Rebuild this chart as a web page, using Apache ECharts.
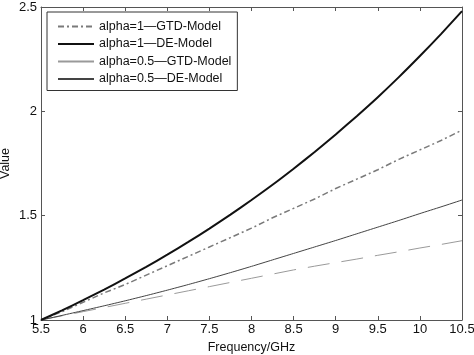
<!DOCTYPE html>
<html>
<head>
<meta charset="utf-8">
<script src="https://cdn.jsdelivr.net/npm/echarts@6/dist/echarts.min.js"></script>
<style>
html,body{margin:0;padding:0;background:#fff;}
#chart{width:474px;height:355px;}
</style>
</head>
<body>
<div id="chart"></div>
<script>
// Frequency (GHz)
var freq = [5.5, 5.75, 6.0, 6.25, 6.5, 6.75, 7.0, 7.25, 7.5, 7.75, 8.0, 8.25, 8.5, 8.75, 9.0, 9.25, 9.5, 9.75, 10.0, 10.25, 10.5];
// Series values
var a1GTD = [1.00, 1.04, 1.085, 1.13, 1.17, 1.215, 1.26, 1.305, 1.35, 1.395, 1.44, 1.49, 1.535, 1.58, 1.63, 1.675, 1.72, 1.77, 1.815, 1.86, 1.91];
var a1DE = [1.00, 1.046, 1.095, 1.146, 1.199, 1.255, 1.313, 1.374, 1.438, 1.505, 1.575, 1.648, 1.725, 1.805, 1.889, 1.977, 2.068, 2.164, 2.265, 2.37, 2.48];
var a05GTD = [1.00, 1.02, 1.04, 1.06, 1.08, 1.10, 1.12, 1.14, 1.16, 1.18, 1.20, 1.22, 1.24, 1.258, 1.275, 1.292, 1.31, 1.327, 1.345, 1.362, 1.38];
var a05DE = [1.00, 1.022, 1.045, 1.068, 1.092, 1.117, 1.143, 1.17, 1.198, 1.227, 1.257, 1.288, 1.319, 1.35, 1.381, 1.413, 1.445, 1.477, 1.51, 1.542, 1.575];
// Names and tick labels
var seriesNames = ['alpha=1\u2014GTD-Model', 'alpha=1\u2014DE-Model', 'alpha=0.5\u2014GTD-Model', 'alpha=0.5\u2014DE-Model'];
var xTickLabels = ['5.5', '6', '6.5', '7', '7.5', '8', '8.5', '9', '9.5', '10', '10.5'];
var yTickLabels = ['1', '1.5', '2', '2.5'];

function pairs(ys) { return freq.map(function (x, i) { return [x, ys[i]]; }); }

var FONT = 'Liberation Sans, Arial, Helvetica, sans-serif';
var axisColor = '#555';
var chart = echarts.init(document.getElementById('chart'), null, { renderer: 'canvas' });

var baseX = {
  type: 'value', min: 5.5, max: 10.5, interval: 0.5,
  axisLine: { show: true, onZero: false, lineStyle: { color: axisColor, width: 1 } },
  axisTick: { show: true, inside: true, length: 4, lineStyle: { color: axisColor } },
  splitLine: { show: false }
};
var baseY = {
  type: 'value', min: 1, max: 2.5, interval: 0.5,
  axisLine: { show: true, onZero: false, lineStyle: { color: axisColor, width: 1 } },
  axisTick: { show: true, inside: true, length: 4, lineStyle: { color: axisColor } },
  splitLine: { show: false }
};

var option = {
  animation: false,
  backgroundColor: '#fff',
  grid: { left: 41, right: 12, top: 7, bottom: 35, containLabel: false, outerBoundsMode: 'none' },
  legend: {
    orient: 'vertical', left: 47, top: 12,
    itemWidth: 36, itemHeight: 14, itemGap: 4.5,
    padding: [8, 6, 5, 10],
    borderColor: '#333', borderWidth: 1, backgroundColor: '#fff',
    itemStyle: { opacity: 0 },
    textStyle: { fontFamily: FONT, fontSize: 12.5, color: '#111' },
    data: [
      { name: seriesNames[0] },
      { name: seriesNames[1] },
      { name: seriesNames[2], lineStyle: { type: 'solid' } },
      { name: seriesNames[3] }
    ]
  },
  xAxis: [
    Object.assign({}, baseX, {
      position: 'bottom',
      name: 'Frequency/GHz', nameLocation: 'middle', nameGap: 21, nameMoveOverlap: false,
      nameTextStyle: { fontFamily: FONT, fontSize: 12.5, color: '#111' },
      axisLabel: {
        show: true, margin: 3, fontFamily: FONT, fontSize: 13, color: '#111',
        formatter: function (v) { return xTickLabels[Math.round((v - 5.5) / 0.5)]; }
      }
    }),
    Object.assign({}, baseX, { position: 'top', axisLabel: { show: false } })
  ],
  yAxis: [
    Object.assign({}, baseY, {
      position: 'left',
      name: 'Value', nameLocation: 'middle', nameGap: 29, nameRotate: 90, nameMoveOverlap: false,
      nameTextStyle: { fontFamily: FONT, fontSize: 12.5, color: '#111' },
      axisLabel: {
        show: true, margin: 4, fontFamily: FONT, fontSize: 13, color: '#111',
        formatter: function (v) { return yTickLabels[Math.round((v - 1) / 0.5)]; }
      }
    }),
    Object.assign({}, baseY, { position: 'right', axisLabel: { show: false } })
  ],
  series: [
    {
      name: seriesNames[0], type: 'line', data: pairs(a1GTD), symbol: 'none', z: 3,
      lineStyle: { color: '#7a7a7a', width: 1.5, type: [6, 3, 2, 3] },
      itemStyle: { color: '#7a7a7a' }
    },
    {
      name: seriesNames[1], type: 'line', data: pairs(a1DE), symbol: 'none', smooth: 0.2, z: 4,
      lineStyle: { color: '#111', width: 2 },
      itemStyle: { color: '#111' }
    },
    {
      name: seriesNames[2], type: 'line', data: pairs(a05GTD), symbol: 'none', z: 2,
      lineStyle: { color: '#9a9a9a', width: 1, type: [22, 12] },
      itemStyle: { color: '#9a9a9a' }
    },
    {
      name: seriesNames[3], type: 'line', data: pairs(a05DE), symbol: 'none', smooth: 0.2, z: 2,
      lineStyle: { color: '#444', width: 1 },
      itemStyle: { color: '#444' }
    }
  ]
};
chart.setOption(option);
</script>
</body>
</html>
